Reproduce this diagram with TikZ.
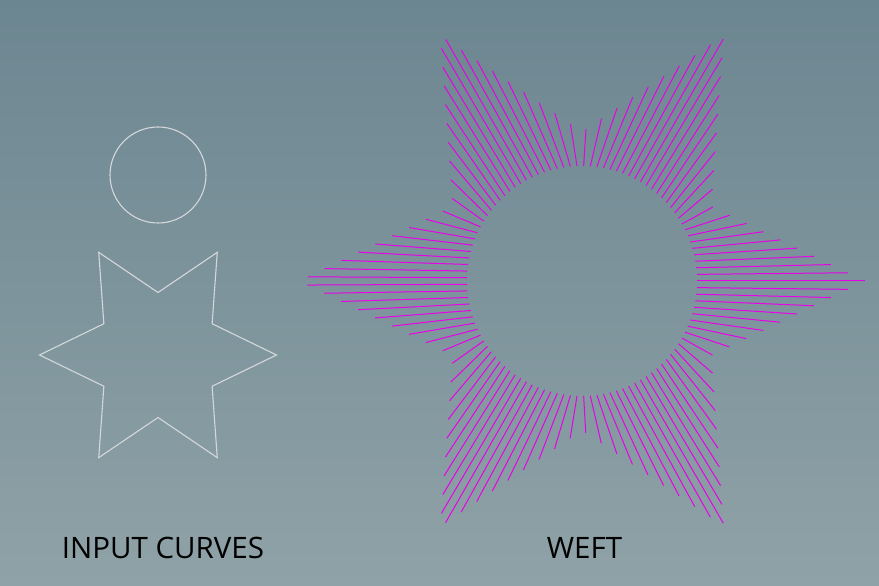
\documentclass[tikz,border=0pt]{standalone}
\usepackage{fontspec}
\newfontfamily\labelfont{Open Sans}
\usepackage{tikz}
\usetikzlibrary{calc}
\definecolor{bgtop}{RGB}{108,134,145}
\definecolor{bgbot}{RGB}{143,162,167}
\definecolor{curvegray}{RGB}{212,216,218}
\definecolor{weftpink}{RGB}{232,0,232}

\begin{document}
\begin{tikzpicture}[x=1pt,y=1pt,
    curve/.style={draw=curvegray, line width=1.1pt, line join=miter},
    weft/.style={draw=weftpink, line width=1pt},
    caption/.style={inner sep=0pt, font=\labelfont\fontsize{29.5}{29.5}\selectfont, text=black}]
    %% background
    \shade[top color=bgtop, bottom color=bgbot] (0,0) rectangle (879,586);
    \useasboundingbox (0,0) rectangle (879,586);

    %% Input curves
    \draw[curve] (158,411) circle (48);
    \begin{scope}[shift={(158,231)}]
        \draw[curve] (90:62.5) \foreach \j in {0,...,5}{ -- ({120+60*\j}:118.5) -- ({150+60*\j}:62.5)} -- cycle;
    \end{scope}

    %% Weft: 109 divisions, both curves start at 0 deg
    \begin{scope}[shift={(582,305)}]
        \foreach \k in {0,...,108}{
            \pgfmathsetmacro{\s}{\k*(12/109)}
            \pgfmathtruncatemacro{\e}{floor(\s+0.0001)}
            \pgfmathsetmacro{\f}{max(\s-\e,0)}
            \pgfmathsetmacro{\ra}{mod(\e,2)==0 ? 283 : 149.3}
            \pgfmathsetmacro{\rb}{mod(\e,2)==0 ? 149.3 : 283}
            \coordinate (c\k) at ({\k*(360/109)}:115);
            \coordinate (s\k) at ($({30*\e}:\ra)!\f!({30+30*\e}:\rb)$);
            \draw[weft] (c\k) -- (s\k);
        }
    \end{scope}

    \node[caption] (inputlabel) at (163,38) {INPUT CURVES};
    \node[caption] (weftlabel) at (584.5,38) {WEFT};
\end{tikzpicture}
\end{document}
